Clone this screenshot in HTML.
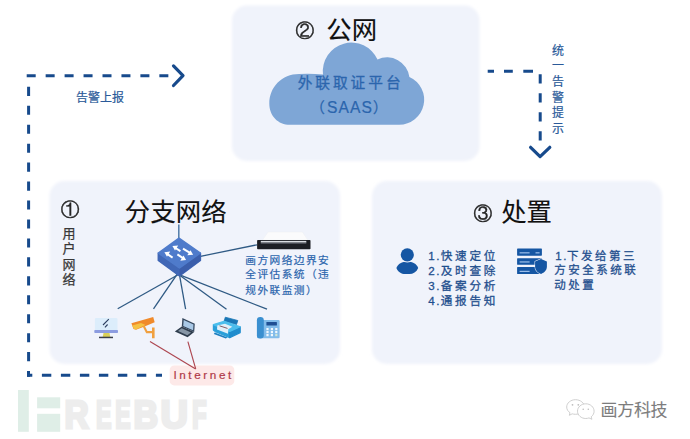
<!DOCTYPE html>
<html lang="zh-CN">
<head>
<meta charset="utf-8">
<title>外联取证平台</title>
<style>
html,body{margin:0;padding:0;background:#fff;}
body{width:690px;height:439px;overflow:hidden;position:relative;}
svg{display:block;position:absolute;left:0;top:0;}
text{font-family:"Liberation Sans","Noto Sans CJK SC",sans-serif;}
.t-title{font-size:25.400px;fill:#111;stroke:#111;stroke-width:0.1px;}
.t-num{font-size:18.800px;fill:#262626;stroke:#262626;stroke-width:0.4px;font-family:"Liberation Sans","WenQuanYi Zen Hei",sans-serif;}
.t-blue{fill:#2b65ad;}
.t-lab{fill:#2a5a99;stroke:#2a5a99;stroke-width:0.2px;}
.tb{stroke:#2b65ad;stroke-width:0.3px;}
.ts{stroke:#2b65ad;stroke-width:0.2px;}
.t-dark{fill:#1f4f8e;}
.td{stroke:#1f4f8e;stroke-width:0.28px;}
</style>
</head>
<body>
<svg width="690" height="439" viewBox="0 0 690 439">
  <!-- panels -->
  <defs><filter id="soft" x="-5%" y="-5%" width="110%" height="110%"><feGaussianBlur stdDeviation="1.600"/></filter><filter id="soft2" x="-10%" y="-20%" width="120%" height="140%"><feGaussianBlur stdDeviation="0.7"/></filter></defs>
  <g fill="#f0f3fb" filter="url(#soft)">
    <rect x="232" y="5.500" width="247.500" height="155.500" rx="15"/>
    <rect x="49.500" y="181" width="290.500" height="183" rx="15"/>
    <rect x="372" y="181" width="290" height="183" rx="15"/>
  </g>

  <!-- left dashed path -->
  <g fill="none" stroke="#174a8c" stroke-width="3">
    <path d="M26.700 75.700 H172" stroke-dasharray="9 9.950"/>
    <path d="M28.600 86.800 V370" stroke-dasharray="9.100 9.850"/>
    <path d="M27 375.300 H32.300 M41.900 375.300 H162" stroke-dasharray="9.400 9.600"/>
    <path d="M28.500 371 V376.800"/>
    <path d="M173.500 65.900 L183 75.700 L173.500 85.500" stroke-width="3.200" stroke-linecap="round" stroke-linejoin="round"/>
    <path d="M487.700 71.200 H494 M504 71.200 H512.800 M523.300 71.200 H533"/>
    <path d="M540.200 74.300 V150" stroke-dasharray="9.200 9.800"/>
    <path d="M530.600 147.300 L540.100 156.600 L549.800 147.300" stroke-width="3.200" stroke-linecap="round" stroke-linejoin="round"/>
  </g>

  <text x="76" y="101.500" font-size="12" class="t-lab">告警上报</text>
  <text font-size="12" class="t-lab" text-anchor="middle" x="558 558 558 558 558 558" y="54.500 70 86 101.500 117 132.500">统一告警提示</text>

  <!-- top panel content -->
  <text x="295.400" y="37" class="t-num">②</text>
  <text x="326.300" y="38.800" class="t-title">公网</text>
  <path fill="#7ea6d6" d="M290 124.800 C278 124.800 269.300 116 269.300 103.500 C269.300 87 282 74 299 74 Q312 73.500 323 74.500 A28.600 28.600 0 0 1 377.500 59.500 A22.500 22.500 0 0 1 409.400 77 A25 25 0 0 1 399 124.800 Z"/>
  <text x="297.700" y="88.300" font-size="14.700" letter-spacing="2.950" class="t-blue tb">外联取证平台</text>
  <text y="113.300" font-size="15" class="t-blue ts"><tspan x="310">（</tspan><tspan x="326.900" font-size="15.600" letter-spacing="1.100">SAAS</tspan><tspan x="372.800">）</tspan></text>

  <!-- left panel content -->
  <text x="60.700" y="216.300" class="t-num">①</text>
  <text x="124.700" y="220.500" letter-spacing="0.150" class="t-title">分支网络</text>
  <text font-size="13" fill="#383838" stroke="#383838" stroke-width="0.250" text-anchor="middle" x="69.100 69.100 69.100 69.100" y="237.500 253 268.500 284">用户网络</text>
  <g stroke="#2f5a84" stroke-width="1.300" fill="none">
    <path d="M178.800 224.500 V240" stroke="#4f7aa8" stroke-width="1.500"/>
    <path d="M200.500 256.300 L257 244.800"/>
    <path d="M178.500 274.500 L117.700 308.800"/>
    <path d="M177.200 274.200 L153.500 308.800"/>
    <path d="M179.600 275.500 L185.600 309.200"/>
    <path d="M180 275.500 L226.500 309.200"/>
    <path d="M181 275.400 L267 309.200"/>
  </g>
  <!-- switch -->
  <g stroke-linejoin="round">
    <path d="M158.300 253.300 L179.500 268.500 L200.400 253.300 L200.400 260.400 L179.500 276 L158.300 260.400 Z" fill="#4067b6" stroke="#4067b6" stroke-width="1.500"/>
    <path d="M179.500 268.500 L200.400 253.300 L200.400 260.400 L179.500 276 Z" fill="#3b5eab"/>
    <path d="M158.300 253 L179 238.200 L200.400 253 L179.500 268 Z" fill="#4f7bcb" stroke="#4f7bcb" stroke-width="1.500"/>
    <g stroke="#fff" stroke-width="2" fill="none" stroke-linecap="butt">
      <path d="M167.500 254.200 L172.600 257.600"/>
      <path d="M175.500 248 L180.400 251.200"/>
      <path d="M177.400 254.400 L183 258.100"/>
      <path d="M183 248.600 L190 252.800"/>
    </g>
    <g fill="#fff" stroke="none">
      <path d="M164.400 252.200 L170.200 251.600 L167 256.700 Z"/>
      <path d="M172.400 246 L178.200 245.400 L175 250.500 Z"/>
      <path d="M186.100 260.100 L180.300 260.700 L183.500 255.600 Z"/>
      <path d="M193.100 254.800 L187.300 255.300 L190.500 250.300 Z"/>
    </g>
  </g>
  <!-- server -->
  <g>
    <path d="M268 232 H302.500 L308 240.300 H262.300 Z" fill="#fbfbfc" stroke="#eceef3" stroke-width="0.500"/>
    <rect x="257.100" y="239.900" width="53.400" height="9.400" rx="0.800" fill="#1c1e24"/>
    <rect x="260.800" y="240.900" width="45.500" height="1.700" fill="#d9dce1"/>
    <rect x="260.800" y="242.600" width="45.500" height="1" fill="#6b7079"/>
  </g>
  <g font-size="10.700" letter-spacing="1.450" class="t-blue ts">
    <text x="245.300" y="263.900">画方网络边界安</text>
    <text x="245.300" y="278.400">全评估系统（违</text>
    <text x="245.300" y="293.900">规外联监测）</text>
  </g>
  <!-- device icons -->
  <g>
    <!-- monitor -->
    <rect x="94.900" y="317.900" width="22.600" height="12.500" rx="1.200" fill="#dcedfb"/>
    <rect x="94.300" y="330" width="23.700" height="3" rx="0.800" fill="#8c9ce0"/>
    <path d="M103.500 333 H109.500 L110.300 337 H102.700 Z" fill="#d9cf58"/>
    <rect x="99" y="336.700" width="14" height="1.500" fill="#3a3f4a"/>
    <path d="M103 325 L108.800 319.200 M104.900 327.300 L107.600 324.500" stroke="#2c3e60" stroke-width="1.100" fill="none"/>
    <!-- camera -->
    <path d="M131.400 323.300 L153.200 317 L154.700 322.300 L144.500 326.500 L136 329.800 L133.500 329 Z" fill="#f08a2b"/>
    <path d="M132.200 325.400 L141 323 L145.500 325 L136 329.600 L134 329 Z" fill="#f5c245"/>
    <path d="M142.600 326.300 L144.600 325.500 L147.400 331 H152 V327.500 H154.600 V338.200 H152 V333.200 H146.200 Z" fill="#f0a040"/>
    <!-- laptop -->
    <path d="M182.400 317.900 L194.800 323.700 L194.200 332 L181.800 326.600 Z" fill="#34465c"/>
    <path d="M183.700 320 L193.500 324.600 L193.100 330.200 L183.200 325.900 Z" fill="#a9c8e6"/>
    <path d="M181.800 326.600 L194.200 332 L187.600 337.200 L174.800 331.400 Z" fill="#2f3d4e"/>
    <path d="M181.700 328.300 L191 332.400 L187.300 335.200 L178 331.100 Z" fill="#8796a6"/>
    <!-- printer -->
    <path d="M225.300 317.200 L237.800 320.500 L236.500 324.500 L224.200 321 Z" fill="#1b77b6" stroke="#1b77b6" stroke-width="0.800" stroke-linejoin="round"/>
    <g stroke-linejoin="round" stroke-width="1.200">
      <path d="M213.400 324.800 L229.700 331.500 L229.700 337.600 L215.500 331.800 L213.400 330 Z" fill="#2a9fd9" stroke="#2a9fd9"/>
      <path d="M229.700 331.500 L240.200 326.900 L240.200 332.600 L229.700 337.600 Z" fill="#1f8ccd" stroke="#1f8ccd"/>
      <path d="M213.400 324.600 L224 321.300 L240.200 326.800 L229.700 331.400 Z" fill="#4cbdec" stroke="#4cbdec"/>
    </g>
    <path d="M217.300 325.600 L225 323.700 L232.300 326.800 L228.300 329.200 L228 333.800 L217 329.500 Z" fill="#e3f0f9"/>
    <path d="M219.500 325.800 L227.500 328.400" stroke="#7a4b55" stroke-width="0.900" fill="none"/>
    <path d="M214.800 332.400 L227.500 337.400 L225.800 338.600 L213.800 334 Z" fill="#1c7fc0"/>
    <!-- phone -->
    <rect x="257" y="320" width="22.600" height="18.200" rx="1.200" fill="#83bcea"/>
    <rect x="256.900" y="317.100" width="6.900" height="21.400" rx="3.300" fill="#3a8fd0"/>
    <rect x="266.400" y="322.100" width="10.500" height="3.300" rx="0.500" fill="#1f4f93"/>
    <g fill="#f1f8ff">
      <rect x="266.400" y="328" width="2.200" height="2.200"/><rect x="270.800" y="328" width="2.200" height="2.200"/><rect x="275.200" y="328" width="2.200" height="2.200"/>
      <rect x="266.400" y="331" width="2.200" height="2.200"/><rect x="270.800" y="331" width="2.200" height="2.200"/><rect x="275.200" y="331" width="2.200" height="2.200"/>
      <rect x="266.400" y="334" width="2.200" height="2.200"/><rect x="270.800" y="334" width="2.200" height="2.200"/><rect x="275.200" y="334" width="2.200" height="2.200" fill="#cfe6d8"/>
    </g>
  </g>
  <!-- Internet -->
  <rect x="169.700" y="365.400" width="64.600" height="20" rx="4.500" fill="#fde9e8" filter="url(#soft2)"/>
  <g stroke="#ad4650" stroke-width="1.150" fill="none">
    <path d="M150 341.600 L195.700 368.900"/>
    <path d="M187.900 341.600 L195.700 368.900"/>
  </g>
  <text x="173.400" y="378.800" font-size="11.700" letter-spacing="2.600" fill="#b03a48" stroke="#b03a48" stroke-width="0.200">Internet</text>

  <!-- right panel content -->
  <text x="473.500" y="219.500" class="t-num">③</text>
  <text x="501.200" y="220.500" class="t-title">处置</text>
  <g fill="#1556a3">
    <path d="M396.400 268 C398 264 402 261.600 407.300 261.600 C412.600 261.600 416.600 264 418.200 268 C416.500 272 413 274 409.500 274 H405 C401.500 274 398 272 396.400 268 Z"/>
    <circle cx="407.300" cy="254.800" r="7.700" fill="#f0f3fb"/>
    <circle cx="407.300" cy="254.800" r="6.600"/>
  </g>
  <g font-size="11.600" letter-spacing="2.800" class="t-dark td">
    <text y="259.700"><tspan x="428.200" letter-spacing="1.700">1.</tspan><tspan x="440.700">快速定位</tspan></text>
    <text y="274.800"><tspan x="428.200" letter-spacing="1.700">2.</tspan><tspan x="440.700">及时查除</tspan></text>
    <text y="289.900"><tspan x="428.200" letter-spacing="1.700">3.</tspan><tspan x="440.700">备案分析</tspan></text>
    <text y="305.200"><tspan x="428.200" letter-spacing="1.700">4.</tspan><tspan x="440.700">通报告知</tspan></text>
  </g>
  <g fill="#1556a3">
    <rect x="517.100" y="248.600" width="24.800" height="7.100" rx="0.600"/>
    <rect x="517.100" y="258.200" width="24.800" height="6.600" rx="0.600"/>
    <rect x="517.100" y="267.100" width="24.800" height="7" rx="0.600"/>
    <g fill="#a9c9f1">
      <rect x="519.600" y="252.300" width="10" height="1.100"/>
      <rect x="535.500" y="252.300" width="4.100" height="1.100"/>
      <rect x="519.600" y="261.400" width="10" height="1.100"/>
      <rect x="519.600" y="270.800" width="10" height="1.100"/>
    </g>
    <path d="M541 258.900 L546.900 261.500 V266.500 C546.900 270 544.500 272.600 541 273.900 C537.500 272.600 535.100 270 535.100 266.500 V261.500 Z" stroke="#f0f3fb" stroke-width="1.100" stroke-linejoin="round" paint-order="stroke"/>
  </g>
  <g font-size="11.500" letter-spacing="2.500" class="t-dark td">
    <text y="259.800"><tspan x="555.200" letter-spacing="1.700">1.</tspan><tspan x="567">下发给第三</tspan></text>
    <text x="554.300" y="273.900">方安全系统联</text>
    <text x="554.300" y="288.800">动处置</text>
  </g>

  <!-- watermark -->
  <g fill="#dfeee7">
    <rect x="18" y="390" width="10.800" height="41.800"/>
    <rect x="37.100" y="397.300" width="23.100" height="11"/>
    <rect x="37.100" y="413.800" width="23.100" height="18"/>
  </g>
  <text y="428.3" fill="#ededed" stroke="#ededed" stroke-width="3" stroke-linejoin="miter" font-size="39.700" font-weight="700"><tspan x="64.50" textLength="24.15" lengthAdjust="spacingAndGlyphs">R</tspan><tspan x="96.10" textLength="15.50" lengthAdjust="spacingAndGlyphs">E</tspan><tspan x="115.30" textLength="15.32" lengthAdjust="spacingAndGlyphs">E</tspan><tspan x="133.40" textLength="24.57" lengthAdjust="spacingAndGlyphs">B</tspan><tspan x="160.50" textLength="27.43" lengthAdjust="spacingAndGlyphs">U</tspan><tspan x="192.00" textLength="14.62" lengthAdjust="spacingAndGlyphs">F</tspan></text>
  <!-- wechat + brand -->
  <g fill="#fff" stroke="#c9c9c9" stroke-width="0.900">
    <path d="M575.500 399.700 C580.500 399.700 584.400 403 584.400 407 C584.400 411 580.500 414.300 575.500 414.300 C574.300 414.300 573.200 414.100 572.200 413.800 L569.300 415.300 L570 412.700 C567.900 411.400 566.700 409.300 566.700 407 C566.700 403 570.600 399.700 575.500 399.700 Z"/>
    <path d="M585.800 403.800 C590.400 403.800 594.100 407.100 594.100 411.200 C594.100 413.400 593 415.400 591.200 416.800 L591.900 419.300 L589 417.900 C588 418.300 586.900 418.500 585.800 418.500 C581.200 418.500 577.500 415.200 577.500 411.200 C577.500 407.100 581.200 403.800 585.800 403.800 Z"/>
  </g>
  <g fill="#bdbdbd"><circle cx="572.500" cy="404.800" r="0.900"/><circle cx="578.300" cy="404.800" r="0.900"/><circle cx="583.200" cy="409.300" r="0.800"/><circle cx="588.300" cy="409.300" r="0.800"/></g>
  <text x="600.500" y="416" font-size="17" letter-spacing="-0.300" fill="#7d7d7d" stroke="#7d7d7d" stroke-width="0.100">画方科技</text>
</svg>
</body>
</html>
